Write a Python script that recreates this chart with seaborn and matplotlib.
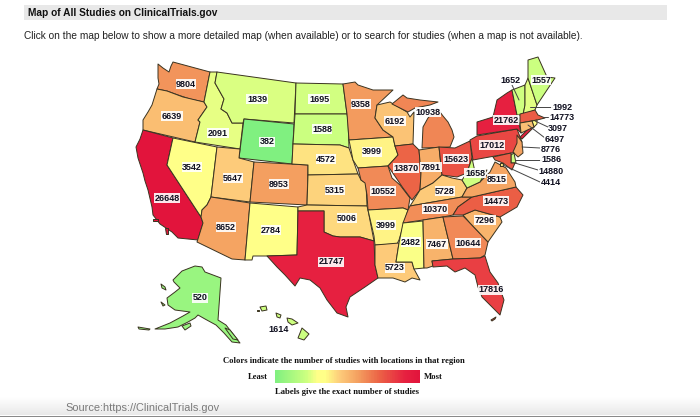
import numpy as np
import matplotlib
matplotlib.use("Agg")
import matplotlib.pyplot as plt
from matplotlib.colors import LinearSegmentedColormap, PowerNorm
import seaborn as sns

TITLE = "Map of All Studies on ClinicalTrials.gov"
SUBTITLE = "Click on the map below to show a more detailed map (when available) or to search for studies (when a map is not available)."
LEGEND_TOP = "Colors indicate the number of studies with locations in that region"
LEGEND_BOTTOM = "Labels give the exact number of studies"
SOURCE = "Source:https://ClinicalTrials.gov"

# studies per state
STUDIES = {
    "WA": 9804, "OR": 6639, "CA": 26648, "NV": 3542, "ID": 2091, "MT": 1839, "WY": 382, "UT": 5647,
    "AZ": 8652, "CO": 8953, "NM": 2784, "ND": 1695, "SD": 1588, "NE": 4572, "KS": 5315, "OK": 5006,
    "TX": 21747, "MN": 9358, "IA": 3999, "MO": 10552, "AR": 3999, "LA": 5723, "WI": 6192, "IL": 13870,
    "MS": 2482, "MI": 10938, "IN": 7891, "KY": 5728, "TN": 10370, "AL": 7467, "OH": 15623, "GA": 10644,
    "FL": 17816, "SC": 7296, "NC": 14473, "VA": 8515, "WV": 1658, "PA": 17012, "NY": 21762, "VT": 1652,
    "NH": 1992, "ME": 1557, "MA": 14773, "RI": 3097, "CT": 6497, "NJ": 8776, "DE": 1586, "MD": 14880,
    "DC": 4414, "AK": 520, "HI": 1614,
}

# outlines, in picture units
OUTLINES = {
    "WA": [[(158,64),(163,68),(169,72),(171,66),(173,62),(210,72),(204,102),(190,99),(178,95),(167,91),(157,89),(159,84),(158,78)]],
    "OR": [[(157,89),(167,91),(183,97),(204,102),(207,107),(198,120),(200,122),(195,142),(143,130),(143,120),(148,112),(152,105)]],
    "CA": [[(143,130),(173,138),(167,165),(201,217),(203,223),(198,240),(178,238),(172,232),(160,224),(153,215),(152,207),(148,190),(145,181),(143,173),(138,158),(136,147),(140,139)],
           [(153,219),(158,219),(158,221),(153,221)], [(165,228),(168,228),(168,234),(166,234)]],
    "NV": [[(173,138),(217,147),(211,197),(207,205),(202,210),(201,217),(167,165)]],
    "ID": [[(210,72),(217,72),(215,83),(224,99),(221,109),(227,113),(232,123),(243,123),(240,149),(195,142),(200,122),(198,120),(207,107),(204,102)]],
    "MT": [[(217,72),(296,83),(294,123),(244,119),(243,123),(232,123),(227,113),(221,109),(224,99),(215,83)]],
    "WY": [[(244,119),(294,124),(292,164),(239,158)]],
    "UT": [[(217,147),(240,149),(239,158),(254,162),(250,202),(211,197)]],
    "AZ": [[(211,197),(250,203),(245,260),(232,259),(197,242),(203,223),(201,217),(202,210),(207,205)]],
    "CO": [[(254,162),(308,165),(307,205),(250,202)]],
    "NM": [[(250,203),(298,207),(297,255),(266,256),(253,256),(252,260),(245,260)]],
    "ND": [[(296,83),(343,84),(347,114),(295,114)]],
    "SD": [[(295,114),(347,114),(348,120),(349,148),(340,145),(293,144)]],
    "NE": [[(293,144),(340,145),(349,148),(353,160),(358,174),(308,175),(308,165),(292,164)]],
    "KS": [[(308,175),(358,174),(361,180),(366,183),(367,206),(307,205)]],
    "OK": [[(307,205),(367,206),(368,210),(374,241),(360,237),(340,237),(333,236),(324,232),(324,211),(298,211),(298,207)]],
    "TX": [[(298,211),(324,211),(324,232),(333,236),(340,237),(360,237),(374,241),(375,265),(378,278),(365,287),(350,297),(346,307),(348,317),(337,313),(327,300),(320,288),(310,280),(300,278),(295,286),(285,275),(277,267),(267,256),(297,255)]],
    "MN": [[(343,84),(355,82),(358,85),(373,90),(393,90),(377,105),(375,118),(383,130),(393,137),(349,140),(347,114)]],
    "IA": [[(349,140),(393,137),(395,146),(398,155),(388,166),(358,168),(353,160)]],
    "MO": [[(358,168),(388,166),(392,178),(400,185),(410,198),(408,210),(403,208),(368,210),(367,195),(365,183),(361,180)]],
    "AR": [[(368,210),(403,208),(408,210),(399,240),(397,244),(375,245),(374,236)]],
    "LA": [[(375,245),(399,243),(396,262),(412,262),(414,269),(420,280),(412,278),(405,282),(393,278),(378,278),(375,265)]],
    "WI": [[(375,118),(377,105),(390,102),(407,112),(410,117),(414,112),(413,144),(395,146),(393,137),(383,130)]],
    "IL": [[(395,146),(413,144),(419,150),(421,173),(420,190),(412,200),(403,188),(388,166),(398,155)]],
    "MI": [[(422,148),(423,127),(428,118),(437,108),(443,116),(448,122),(452,130),(454,137),(450,147)],
           [(392,104),(403,95),(407,98),(420,100),(438,102),(430,105),(415,108),(408,112)]],
    "IN": [[(419,150),(439,147),(442,175),(433,183),(420,190),(421,173)]],
    "OH": [[(439,147),(455,148),(470,141),(472,158),(467,173),(457,177),(442,175)]],
    "KY": [[(412,203),(420,190),(433,183),(442,175),(452,178),(462,180),(467,188),(462,197),(410,206)]],
    "TN": [[(408,210),(410,206),(462,197),(472,197),(458,207),(453,215),(443,217),(423,220),(403,223)]],
    "MS": [[(403,223),(423,221),(424,268),(414,269),(412,262),(396,262),(399,243)]],
    "AL": [[(423,220),(443,217),(453,259),(432,261),(433,266),(427,268),(424,268)]],
    "GA": [[(443,217),(463,216),(470,223),(488,242),(485,255),(480,258),(453,259)]],
    "FL": [[(432,261),(453,259),(480,258),(485,256),(490,272),(498,283),(504,300),(500,315),(493,308),(482,297),(478,287),(475,275),(465,268),(455,272),(447,266),(433,267)],
           [(491,320),(496,317),(495,319),(492,321)]],
    "SC": [[(463,215),(475,210),(500,217),(502,222),(488,242),(470,223)]],
    "NC": [[(472,197),(516,187),(523,195),(517,207),(500,217),(475,210),(463,215),(453,215),(458,207)]],
    "VA": [[(467,188),(480,182),(490,172),(495,162),(506,168),(515,182),(516,187),(472,197),(462,197)]],
    "WV": [[(472,158),(475,172),(487,170),(480,182),(467,188),(462,180),(467,173)]],
    "PA": [[(470,140),(477,136),(517,129),(522,142),(517,152),(473,160)]],
    "NY": [[(477,135),(477,122),(493,117),(497,100),(507,93),(512,90),(517,115),(521,133),(517,129)],
           [(520,137),(532,125),(534,127),(522,139)]],
    "VT": [[(512,90),(525,85),(525,105),(523,115),(517,115)]],
    "NH": [[(525,85),(528,78),(537,105),(535,110),(523,115),(525,105)]],
    "ME": [[(528,60),(538,57),(547,77),(555,78),(545,93),(537,105),(528,78)]],
    "MA": [[(520,114),(535,110),(538,115),(545,118),(537,120),(520,123)]],
    "RI": [[(532,121),(537,120),(537,124),(534,127)]],
    "CT": [[(520,123),(532,121),(534,127),(521,133)]],
    "NJ": [[(517,135),(522,142),(523,153),(518,157),(513,152),(517,143)]],
    "DE": [[(511,155),(514,153),(516,163),(511,163)]],
    "MD": [[(493,157),(511,153),(511,163),(515,163),(512,170),(503,163),(495,160)]],
    "DC": [[(500,163),(503,163),(503,166),(500,166)]],
    "AK": [[(182,271),(195,266),(202,267),(205,272),(221,278),(218,320),(226,325),(240,343),(232,342),(224,333),(216,325),(205,319),(198,315),(195,318),(188,322),(178,327),(165,329),(155,329),(170,323),(183,316),(190,312),(175,310),(168,305),(167,298),(175,292),(180,288),(174,282),(173,280)],
           [(182,326),(190,323),(191,326),(185,330)], [(161,284),(165,287),(166,290),(162,288)], [(161,302),(165,305),(163,306)],
           [(138,327),(150,329),(149,330),(139,329)], [(225,328),(230,330),(238,340),(233,339)]],
    "HI": [[(260,307),(266,306),(267,310),(262,311)], [(276,313),(281,315),(280,318),(277,317)], [(287,318),(292,319),(298,323),(292,325),(288,322)],
           [(302,328),(309,334),(304,340),(298,338)], [(257,310),(259,310),(259,311),(257,311)]],
}

LABEL_XY = {
    "WA": (186,84), "OR": (172,116), "CA": (167,198), "NV": (192,167), "ID": (218,133), "MT": (257,99), "WY": (267,142),
    "UT": (233,178), "AZ": (226,227), "CO": (279,184), "NM": (271,230), "ND": (319,99), "SD": (322,129), "NE": (326,159),
    "KS": (335,190), "OK": (347,218), "TX": (331,262), "MN": (361,104), "IA": (372,152), "MO": (383,191), "AR": (386,225),
    "LA": (395,268), "WI": (395,121), "IL": (406,168), "MS": (411,242), "MI": (428,112), "IN": (431,167), "KY": (445,191),
    "TN": (435,209), "AL": (437,244), "OH": (456,159), "GA": (468,243), "FL": (491,290), "SC": (485,220), "NC": (496,201),
    "VA": (497,179), "WV": (475,173), "PA": (492,145), "NY": (506,120), "VT": (510,80), "NH": (562,107), "ME": (541,80),
    "MA": (562,117), "RI": (558,128), "CT": (555,139), "NJ": (551,149), "DE": (551,160), "MD": (551,171), "DC": (551,182),
    "AK": (200,298), "HI": (279,329),
}

LEADERS = {
    "VT": ((512,85),(519,100)), "NH": ((552,107),(530,107)), "MA": ((548,117),(543,117)), "RI": ((548,127),(535,121)),
    "CT": ((545,138),(528,125)), "NJ": ((540,148),(522,147)), "DE": ((541,160),(515,160)), "MD": ((538,170),(515,163)),
    "DC": ((540,182),(503,165)),
}

STOP_POS = [0, 0.215, 0.29, 0.345, 0.448, 0.571, 0.717, 0.90, 1]
STOP_COLORS = ["#80F080", "#CCFF80", "#FFFF88", "#FFFF88", "#FDCB7A", "#F4A060", "#EC6446", "#E62040", "#E2143C"]

sns.set_theme(style="white")
plt.rcParams["font.family"] = ["Liberation Sans", "DejaVu Sans"]

cmap = LinearSegmentedColormap.from_list("studies", list(zip(STOP_POS, STOP_COLORS)))
norm = PowerNorm(0.5, vmin=min(STUDIES.values()), vmax=max(STUDIES.values()))

fig = plt.figure(figsize=(7, 4.17), dpi=100, facecolor="white")
ax = fig.add_axes([0, 0, 1, 1])

# page furniture
ax.fill_between([24, 667], 5, 20, color="#E8E8E8", lw=0, zorder=1)
ax.text(28, 12.5, TITLE, fontsize=7.3, fontweight="bold", color="#111111", va="center", ha="left", zorder=5)
ax.text(24, 36, SUBTITLE, fontsize=7.3, color="#222222", va="center", ha="left", zorder=5)

# bottom fade of the screenshot
ax.imshow(np.linspace(0, 1, 32).reshape(-1, 1), extent=(0, 700, 415, 397), aspect="auto", zorder=0,
          cmap=LinearSegmentedColormap.from_list("fade", ["#FFFFFF", "#E9E9E9"]))
ax.fill_between([0, 700], 415.5, 417, color="#8A8A8A", lw=0, zorder=1)
ax.text(65, 408, SOURCE, fontsize=7.9, color="#7A7A7A", va="center", ha="left", zorder=5)

ax.set_xlim(0, 700)
ax.set_ylim(417, 0)
ax.axis("off")

# states
for state, parts in OUTLINES.items():
    color = cmap(norm(STUDIES[state]))
    for part in parts:
        xs, ys = zip(*part)
        ax.fill(xs, ys, facecolor=color, edgecolor="#3A3320", linewidth=0.7, joinstyle="round", zorder=2)

for state, (start, end) in LEADERS.items():
    ax.plot([start[0], end[0]], [start[1], end[1]], color="#444444", lw=0.7, zorder=3)

for state, (x, y) in LABEL_XY.items():
    ax.text(x, y, str(STUDIES[state]), fontsize=6.5, fontweight="bold", color="#101020",
            ha="center", va="center", zorder=6,
            bbox=dict(facecolor="white", edgecolor="none", pad=0.3, alpha=0.9))

# legend
serif = ["Liberation Serif", "DejaVu Serif"]
ax.text(344, 361, LEGEND_TOP, fontsize=6.2, fontweight="bold", family=serif, color="#111111", ha="center", va="center")
ax.text(347, 392.5, LEGEND_BOTTOM, fontsize=6.2, fontweight="bold", family=serif, color="#111111", ha="center", va="center")
ax.text(268, 377, "Least", fontsize=6.2, fontweight="bold", family=serif, color="#111111", ha="right", va="center")
ax.text(424, 377, "Most", fontsize=6.2, fontweight="bold", family=serif, color="#111111", ha="left", va="center")

cax = fig.add_axes([275 / 700, 1 - 383 / 417, 145 / 700, 13 / 417])
sns.heatmap(np.linspace(0, 1, 200).reshape(1, -1), cmap=cmap, vmin=0, vmax=1, cbar=False,
            xticklabels=False, yticklabels=False, ax=cax)

fig.savefig("out.png", dpi=100)
